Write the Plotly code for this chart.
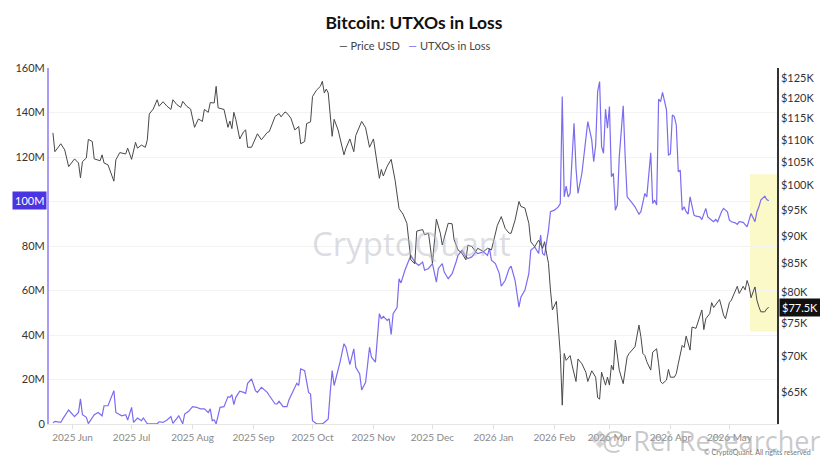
import math
import pandas as pd
import plotly.graph_objects as go

# BTC price, USD thousands
price_dates = [
    "2025-05-22", "2025-05-23", "2025-05-26", "2025-05-28", "2025-05-30", "2025-06-02", "2025-06-04", "2025-06-05",
    "2025-06-06", "2025-06-08", "2025-06-09", "2025-06-11", "2025-06-12", "2025-06-14", "2025-06-15", "2025-06-16",
    "2025-06-17", "2025-06-19", "2025-06-22", "2025-06-23", "2025-06-25", "2025-06-28", "2025-06-29", "2025-07-01",
    "2025-07-03", "2025-07-04", "2025-07-06", "2025-07-08", "2025-07-09", "2025-07-10", "2025-07-12", "2025-07-14",
    "2025-07-15", "2025-07-17", "2025-07-19", "2025-07-21", "2025-07-22", "2025-07-24", "2025-07-26", "2025-07-27",
    "2025-07-29", "2025-07-31", "2025-08-02", "2025-08-04", "2025-08-06", "2025-08-07", "2025-08-09", "2025-08-10",
    "2025-08-12", "2025-08-13", "2025-08-14", "2025-08-17", "2025-08-19", "2025-08-20", "2025-08-21", "2025-08-22",
    "2025-08-23", "2025-08-25", "2025-08-27", "2025-08-28", "2025-08-29", "2025-08-31", "2025-09-03", "2025-09-05",
    "2025-09-08", "2025-09-09", "2025-09-12", "2025-09-14", "2025-09-15", "2025-09-17", "2025-09-18", "2025-09-20",
    "2025-09-22", "2025-09-24", "2025-09-25", "2025-09-27", "2025-09-28", "2025-09-30", "2025-10-01", "2025-10-03",
    "2025-10-05", "2025-10-06", "2025-10-07", "2025-10-08", "2025-10-09", "2025-10-11", "2025-10-12", "2025-10-14",
    "2025-10-17", "2025-10-18", "2025-10-20", "2025-10-22", "2025-10-23", "2025-10-26", "2025-10-28", "2025-10-30",
    "2025-11-01", "2025-11-04", "2025-11-05", "2025-11-06", "2025-11-08", "2025-11-10", "2025-11-12", "2025-11-14",
    "2025-11-16", "2025-11-18", "2025-11-19", "2025-11-20", "2025-11-22", "2025-11-23", "2025-11-26", "2025-11-27",
    "2025-11-29", "2025-12-01", "2025-12-03", "2025-12-05", "2025-12-06", "2025-12-09", "2025-12-11", "2025-12-12",
    "2025-12-14", "2025-12-16", "2025-12-18", "2025-12-19", "2025-12-21", "2025-12-23", "2025-12-24", "2025-12-27",
    "2025-12-29", "2025-12-31", "2026-01-01", "2026-01-03", "2026-01-05", "2026-01-07", "2026-01-09", "2026-01-10",
    "2026-01-12", "2026-01-14", "2026-01-15", "2026-01-17", "2026-01-19", "2026-01-20", "2026-01-22", "2026-01-24",
    "2026-01-26", "2026-01-27", "2026-01-28", "2026-01-29", "2026-01-30", "2026-01-31", "2026-02-02", "2026-02-03",
    "2026-02-04", "2026-02-05", "2026-02-06", "2026-02-07", "2026-02-09", "2026-02-10", "2026-02-12", "2026-02-13",
    "2026-02-15", "2026-02-17", "2026-02-18", "2026-02-20", "2026-02-22", "2026-02-23", "2026-02-24", "2026-02-25",
    "2026-02-26", "2026-02-27", "2026-02-28", "2026-03-01", "2026-03-02", "2026-03-03", "2026-03-04", "2026-03-05",
    "2026-03-06", "2026-03-08", "2026-03-09", "2026-03-10", "2026-03-11", "2026-03-14", "2026-03-16", "2026-03-17",
    "2026-03-18", "2026-03-19", "2026-03-20", "2026-03-22", "2026-03-23", "2026-03-25", "2026-03-26", "2026-03-27",
    "2026-03-28", "2026-03-30", "2026-03-31", "2026-04-01", "2026-04-03", "2026-04-04", "2026-04-05", "2026-04-07",
    "2026-04-08", "2026-04-09", "2026-04-11", "2026-04-12", "2026-04-14", "2026-04-15", "2026-04-17", "2026-04-18",
    "2026-04-19", "2026-04-21", "2026-04-22", "2026-04-23", "2026-04-25", "2026-04-26", "2026-04-27", "2026-04-28",
    "2026-04-29", "2026-04-30", "2026-05-01", "2026-05-02", "2026-05-04", "2026-05-05", "2026-05-06", "2026-05-08",
    "2026-05-09", "2026-05-10", "2026-05-11", "2026-05-12", "2026-05-14", "2026-05-15", "2026-05-16", "2026-05-17",
    "2026-05-19", "2026-05-20", "2026-05-21",
]
price_usd = [
    111.6, 107.3, 109.1, 107.7, 104.0, 105.7, 104.8, 101.6,
    105.1, 105.9, 110.1, 109.6, 105.7, 105.5, 105.3, 106.6,
    104.8, 104.4, 100.9, 105.5, 107.1, 106.8, 108.1, 105.6,
    109.4, 108.1, 108.8, 108.3, 110.0, 116.1, 117.3, 119.6,
    118.0, 119.1, 118.0, 117.2, 119.6, 118.4, 117.7, 119.2,
    118.0, 117.3, 112.9, 114.9, 114.3, 117.2, 116.5, 118.9,
    118.8, 123.0, 117.6, 117.2, 112.9, 114.4, 112.6, 116.5,
    114.8, 110.2, 111.9, 112.3, 108.3, 108.3, 111.4, 110.0,
    111.7, 111.9, 115.5, 116.2, 115.4, 116.6, 116.3, 115.1,
    112.3, 113.1, 109.1, 109.6, 113.8, 114.2, 120.4, 122.0,
    123.0, 124.3, 121.3, 122.3, 121.3, 110.8, 114.8, 112.3,
    106.6, 108.1, 110.2, 107.3, 111.0, 114.3, 112.8, 108.3,
    110.2, 101.5, 103.4, 102.0, 104.1, 105.6, 101.1, 95.3,
    94.2, 92.4, 89.2, 85.6, 84.9, 90.9, 91.2, 90.2,
    90.5, 85.0, 93.2, 90.5, 88.3, 92.4, 92.3, 89.3,
    87.4, 86.8, 85.6, 88.3, 88.0, 87.1, 87.7, 87.1,
    87.7, 87.4, 88.9, 92.0, 93.7, 91.4, 90.5, 90.5,
    93.0, 96.7, 95.7, 95.4, 92.4, 88.9, 88.0, 89.2,
    87.7, 88.9, 86.8, 85.0, 80.4, 77.1, 78.5, 74.4,
    70.4, 63.2, 70.4, 69.4, 70.1, 68.7, 66.4, 69.6,
    68.9, 67.7, 66.4, 67.9, 67.0, 64.2, 64.0, 67.7,
    66.8, 65.9, 67.0, 65.9, 68.7, 68.0, 72.4, 70.1,
    68.0, 66.1, 68.2, 69.9, 70.4, 71.4, 74.7, 72.9,
    70.4, 70.1, 69.2, 68.0, 70.6, 71.1, 68.9, 66.4,
    66.1, 66.6, 68.1, 67.0, 67.0, 67.5, 68.9, 71.6,
    71.3, 73.0, 70.9, 74.4, 74.2, 75.2, 77.1, 74.0,
    75.7, 76.5, 78.3, 77.5, 78.5, 78.8, 77.6, 76.3,
    75.7, 77.3, 78.3, 78.7, 80.4, 81.0, 79.8, 81.0,
    80.4, 82.0, 81.0, 79.1, 80.9, 78.7, 77.6, 76.8,
    76.8, 77.3, 77.5,
]

# UTXOs in loss, millions
utxo_dates = [
    "2025-05-22", "2025-05-23", "2025-05-26", "2025-05-27", "2025-05-30", "2025-06-02", "2025-06-04", "2025-06-05",
    "2025-06-06", "2025-06-08", "2025-06-09", "2025-06-12", "2025-06-14", "2025-06-16", "2025-06-17", "2025-06-19",
    "2025-06-22", "2025-06-23", "2025-06-26", "2025-06-28", "2025-06-29", "2025-07-01", "2025-07-02", "2025-07-04",
    "2025-07-06", "2025-07-07", "2025-07-09", "2025-07-12", "2025-07-14", "2025-07-15", "2025-07-17", "2025-07-19",
    "2025-07-21", "2025-07-22", "2025-07-24", "2025-07-25", "2025-07-27", "2025-07-28", "2025-07-30", "2025-08-01",
    "2025-08-03", "2025-08-05", "2025-08-07", "2025-08-09", "2025-08-10", "2025-08-11", "2025-08-12", "2025-08-13",
    "2025-08-15", "2025-08-17", "2025-08-19", "2025-08-20", "2025-08-21", "2025-08-22", "2025-08-23", "2025-08-25",
    "2025-08-27", "2025-08-28", "2025-08-29", "2025-08-31", "2025-09-02", "2025-09-03", "2025-09-05", "2025-09-08",
    "2025-09-09", "2025-09-12", "2025-09-13", "2025-09-14", "2025-09-16", "2025-09-18", "2025-09-19", "2025-09-21",
    "2025-09-23", "2025-09-24", "2025-09-25", "2025-09-27", "2025-09-29", "2025-09-30", "2025-10-01", "2025-10-03",
    "2025-10-06", "2025-10-07", "2025-10-09", "2025-10-10", "2025-10-11", "2025-10-12", "2025-10-14", "2025-10-15",
    "2025-10-17", "2025-10-18", "2025-10-20", "2025-10-22", "2025-10-23", "2025-10-25", "2025-10-26", "2025-10-28",
    "2025-10-30", "2025-10-31", "2025-11-02", "2025-11-04", "2025-11-05", "2025-11-06", "2025-11-08", "2025-11-09",
    "2025-11-10", "2025-11-11", "2025-11-13", "2025-11-14", "2025-11-15", "2025-11-17", "2025-11-19", "2025-11-20",
    "2025-11-22", "2025-11-24", "2025-11-26", "2025-11-27", "2025-11-29", "2025-12-01", "2025-12-03", "2025-12-04",
    "2025-12-06", "2025-12-07", "2025-12-09", "2025-12-11", "2025-12-13", "2025-12-14", "2025-12-16", "2025-12-18",
    "2025-12-19", "2025-12-21", "2025-12-23", "2025-12-24", "2025-12-27", "2025-12-29", "2025-12-30", "2025-12-31",
    "2026-01-02", "2026-01-04", "2026-01-05", "2026-01-07", "2026-01-09", "2026-01-10", "2026-01-12", "2026-01-14",
    "2026-01-15", "2026-01-17", "2026-01-19", "2026-01-20", "2026-01-22", "2026-01-24", "2026-01-25", "2026-01-26",
    "2026-01-27", "2026-01-29", "2026-01-30", "2026-02-01", "2026-02-03", "2026-02-04", "2026-02-05", "2026-02-06",
    "2026-02-07", "2026-02-08", "2026-02-09", "2026-02-11", "2026-02-12", "2026-02-13", "2026-02-15", "2026-02-17",
    "2026-02-18", "2026-02-20", "2026-02-21", "2026-02-22", "2026-02-23", "2026-02-24", "2026-02-25", "2026-02-26",
    "2026-02-27", "2026-02-28", "2026-03-01", "2026-03-02", "2026-03-03", "2026-03-04", "2026-03-05", "2026-03-06",
    "2026-03-08", "2026-03-09", "2026-03-10", "2026-03-12", "2026-03-14", "2026-03-16", "2026-03-17", "2026-03-19",
    "2026-03-20", "2026-03-22", "2026-03-23", "2026-03-24", "2026-03-25", "2026-03-26", "2026-03-27", "2026-03-28",
    "2026-03-30", "2026-03-31", "2026-04-01", "2026-04-02", "2026-04-03", "2026-04-04", "2026-04-05", "2026-04-06",
    "2026-04-07", "2026-04-08", "2026-04-09", "2026-04-10", "2026-04-11", "2026-04-13", "2026-04-14", "2026-04-16",
    "2026-04-17", "2026-04-19", "2026-04-20", "2026-04-22", "2026-04-23", "2026-04-24", "2026-04-25", "2026-04-27",
    "2026-04-28", "2026-04-30", "2026-05-01", "2026-05-02", "2026-05-04", "2026-05-05", "2026-05-06", "2026-05-08",
    "2026-05-09", "2026-05-10", "2026-05-11", "2026-05-12", "2026-05-14", "2026-05-15", "2026-05-16", "2026-05-17",
    "2026-05-19", "2026-05-20", "2026-05-21",
]
utxo_loss = [
    0.5, 1.2, 0.7, 2.3, 6.3, 3.3, 5.2, 11.3,
    4.2, 3.0, 0.2, 4.2, 5.2, 3.7, 8.2, 8.2,
    15.0, 5.2, 3.7, 4.2, 1.8, 7.5, 0.7, 2.7,
    1.5, 2.7, 0.1, 0.3, 0.1, 1.0, 0.7, 1.8,
    3.3, 0.3, 2.3, 3.7, 0.1, 4.5, 5.7, 7.8,
    7.5, 6.8, 6.8, 5.2, 6.8, 1.5, 1.8, 0.1,
    7.5, 7.8, 12.3, 12.0, 13.2, 8.7, 12.0, 14.7,
    14.2, 13.8, 18.3, 20.3, 15.0, 14.2, 16.5, 14.2,
    12.8, 9.0, 9.0, 10.2, 7.8, 7.8, 10.8, 14.2,
    18.3, 17.3, 24.8, 24.0, 14.2, 13.5, 1.5, 0.1,
    0.1, 0.7, 2.3, 14.2, 24.0, 17.3, 24.0, 27.8,
    36.1, 34.5, 26.7, 33.8, 25.5, 22.5, 15.3, 18.7,
    34.5, 30.0, 27.8, 49.6, 47.3, 48.4, 46.6, 47.3,
    40.2, 49.6, 52.3, 65.3, 63.4, 69.1, 73.6, 75.8,
    72.8, 71.3, 72.8, 69.1, 69.9, 72.1, 63.8, 69.9,
    72.1, 68.3, 65.3, 67.6, 72.8, 75.8, 78.1, 75.1,
    74.4, 75.1, 77.3, 76.6, 77.3, 75.8, 78.9, 73.6,
    72.1, 67.6, 61.9, 64.6, 69.9, 70.9, 64.6, 52.5,
    57.1, 60.1, 67.6, 78.1, 79.6, 76.6, 84.9, 76.6,
    75.8, 87.1, 95.4, 96.1, 97.6, 99.1, 147.2, 102.1,
    106.9, 102.1, 103.6, 135.2, 114.9, 103.6, 112.7, 127.7,
    135.9, 127.7, 117.9, 125.4, 149.4, 153.9, 124.7, 121.7,
    141.5, 132.9, 142.7, 111.1, 112.7, 96.1, 98.4, 120.1,
    143.0, 120.1, 102.1, 99.9, 97.6, 94.3, 95.4, 103.6,
    102.1, 121.9, 99.1, 100.6, 98.4, 146.0, 144.9, 149.0,
    141.2, 120.9, 121.4, 138.9, 138.2, 134.4, 113.4, 114.1,
    96.1, 97.6, 95.4, 94.3, 102.1, 93.9, 93.4, 93.1,
    91.9, 96.9, 93.1, 91.6, 90.9, 91.9, 90.9, 95.4,
    96.9, 95.4, 91.6, 90.9, 90.4, 89.7, 90.9, 90.6,
    89.8, 88.6, 91.6, 94.6, 90.9, 95.4, 97.6, 100.6,
    102.4, 100.9, 100.3,
]

price_ticks = [65, 70, 75, 80, 85, 90, 95, 100, 105, 110, 115, 120, 125]

PURPLE = "#7b6cf0"
GREY_LINE = "#484848"
FONT = "Lato"

# the page sits 8px in from the window corner, so the figure is 8px smaller
W, H = 820, 458
L, R, T, B = 41, 51, 60, 42
PW, PH = W - L - R, H - T - B


def px_x(v):
    return (v - 8 - L) / PW


def px_y(v):
    return (H - B - (v - 8)) / PH


fig = go.Figure()

fig.add_trace(go.Scatter(
    x=pd.to_datetime(utxo_dates), y=[v * 1e6 for v in utxo_loss],
    name="UTXOs in Loss", mode="lines",
    line=dict(color=PURPLE, width=1.2), yaxis="y",
))
fig.add_trace(go.Scatter(
    x=pd.to_datetime(price_dates), y=[p * 1000 for p in price_usd],
    name="Price USD", mode="lines",
    line=dict(color=GREY_LINE, width=1.0), yaxis="y2",
))

# highlighted recent window
fig.add_shape(type="rect", xref="x", yref="y",
              x0="2026-05-11 12:00", x1="2026-05-25 05:00", y0=41.6e6, y1=112.3e6,
              fillcolor="rgba(250,247,185,0.8)", line=dict(width=0), layer="below")

fig.update_layout(
    width=W, height=H,
    margin=dict(l=L, r=R, t=T, b=B),
    paper_bgcolor="white", plot_bgcolor="white",
    showlegend=False,
    font=dict(family=FONT, color="#333"),
    title=dict(text="<b>Bitcoin: UTXOs in Loss</b>", x=(414 - 8) / W, xanchor="center",
               y=1 - (23 - 8) / H, yanchor="middle", font=dict(size=17.5, color="#111", family=FONT)),
    xaxis=dict(
        type="date", range=["2025-05-20", "2026-05-25 05:00"],
        tick0="2025-06-01", dtick="M1", tickformat="%Y %b",
        tickfont=dict(size=10, color="#8a8a8a"),
        showgrid=False, showline=True, linecolor="#e6e6e6", linewidth=1,
        ticks="outside", ticklen=4, tickcolor="#e0e0e0", automargin=False,
    ),
    yaxis=dict(
        range=[0, 160e6], dtick=20e6, tickformat="~s",
        tickfont=dict(size=11, color="#333"),
        showgrid=True, gridcolor="#f3f3f3", zeroline=False,
        showline=True, linecolor="#a89cf5", linewidth=2, automargin=False,
    ),
    yaxis2=dict(
        overlaying="y", side="right", type="log",
        range=[math.log10(60760), math.log10(127800)],
        tickvals=[t * 1000 for t in price_ticks],
        ticktext=[f"${t}K" for t in price_ticks],
        tickfont=dict(size=11, color="#333"),
        showgrid=False, zeroline=False,
        showline=True, linecolor="#333", linewidth=1.5, automargin=False,
    ),
)

# legend drawn as text so the dashes stay short
fig.add_annotation(
    xref="paper", yref="paper", x=px_x(414), y=px_y(46), xanchor="center", yanchor="middle",
    text=(f"<span style='color:{GREY_LINE}'>—</span> Price USD"
          f"&nbsp;&nbsp;&nbsp;<span style='color:{PURPLE}'>—</span> UTXOs in Loss"),
    showarrow=False, font=dict(size=11, color="#444", family=FONT),
)

# last-value tags on both axes
fig.add_annotation(
    xref="paper", yref="y2", x=1, y=math.log10(price_usd[-1] * 1000),
    xanchor="left", yanchor="middle", xshift=2,
    text=f"${price_usd[-1]:g}K", showarrow=False,
    font=dict(size=11, color="white", family=FONT), bgcolor="#111", borderpad=2,
)
fig.add_annotation(
    xref="paper", yref="y", x=0, y=utxo_loss[-1] * 1e6,
    xanchor="right", yanchor="middle", xshift=-2,
    text=f"{round(utxo_loss[-1])}M", showarrow=False,
    font=dict(size=11, color="white", family=FONT), bgcolor="#4b34e2", borderpad=2,
)

# watermarks
fig.add_annotation(
    xref="paper", yref="paper", x=px_x(411), y=px_y(243), xanchor="center", yanchor="middle",
    text="CryptoQuant", showarrow=False,
    font=dict(size=33, color="rgba(185,185,198,0.5)", family="Open Sans"),
)
fig.add_annotation(
    xref="paper", yref="paper", x=px_x(822), y=px_y(440), xanchor="right", yanchor="middle",
    text="@ Rei Researcher", showarrow=False,
    font=dict(size=27, color="rgba(165,165,165,0.6)", family="Open Sans"),
)
fig.add_annotation(
    xref="paper", yref="paper", x=px_x(600), y=px_y(440), xanchor="center", yanchor="middle",
    text="❖", showarrow=False,
    font=dict(size=24, color="rgba(175,175,175,0.55)", family="DejaVu Sans"),
)
fig.add_annotation(
    xref="paper", yref="paper", x=px_x(757), y=px_y(452), xanchor="center", yanchor="middle",
    text="© CryptoQuant. All rights reserved", showarrow=False,
    font=dict(size=7, color="#777", family=FONT),
)

fig.write_html("out.html")
